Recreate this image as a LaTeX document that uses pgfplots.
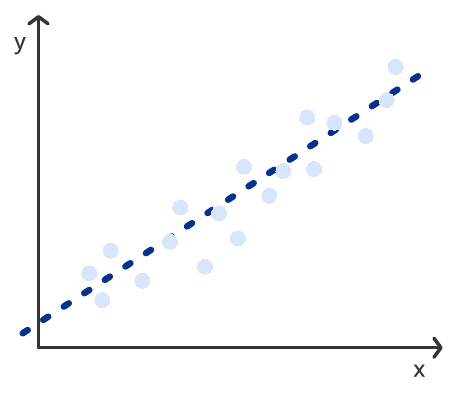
\documentclass[border=0pt]{standalone}
\usepackage{pgfplots}
\pgfplotsset{compat=1.18}
\usepackage{fontspec}
\setmainfont{Open Sans}
\newfontfamily\lab[FakeBold=1]{Open Sans}
\usetikzlibrary{arrows.meta}
\definecolor{pt}{HTML}{D8E5FA}
\definecolor{ln}{HTML}{08318A}
\definecolor{ax}{HTML}{333539}
\begin{document}
\begin{tikzpicture}
\begin{axis}[
  x=1pt, y=1pt,
  xmin=0, xmax=404.2, ymin=0, ymax=332.7,
  axis lines=left,
  clip=false,
  xtick=\empty, ytick=\empty,
  axis line style={line width=3.5pt, color=ax, line cap=round},
  x axis line style={-{Straight Barb[length=7pt,width=19pt,line width=3.5pt,round]}},
  y axis line style={-{Straight Barb[length=7pt,width=19pt,line width=3.5pt,round]}},
]
\path (axis cs:-38.5,-54.3) rectangle (axis cs:435.5,347.7);
\addplot[only marks, draw=pt, fill=pt, mark=*, mark size=7.5pt, mark options={fill=pt, draw=pt, line width=0pt}] coordinates {
(50.8,74.4) (63.8,47.7) (72.2,97.0) (103.8,67.0) (131.5,106.0) (141.8,140.4)
(166.5,81.0) (180.5,134.4) (199.5,109.4) (205.5,181.0) (230.8,152.0) (244.8,176.7)
(268.8,230.4) (275.5,178.7) (295.8,225.0) (327.2,211.7) (348.2,247.7) (357.2,281.0)
};
\addplot[ln, line width=6.5pt, line cap=round, dash pattern=on 6pt off 18.5pt] coordinates {
(-15.8,14.4) (385.5,275.4)
};
\node[text=ax, font=\lab\fontsize{22}{24}\selectfont] at (axis cs:-18.5,302) {y};
\node[text=ax, font=\lab\fontsize{22}{24}\selectfont] at (axis cs:380.8,-23) {x};
\end{axis}
\end{tikzpicture}
\end{document}
